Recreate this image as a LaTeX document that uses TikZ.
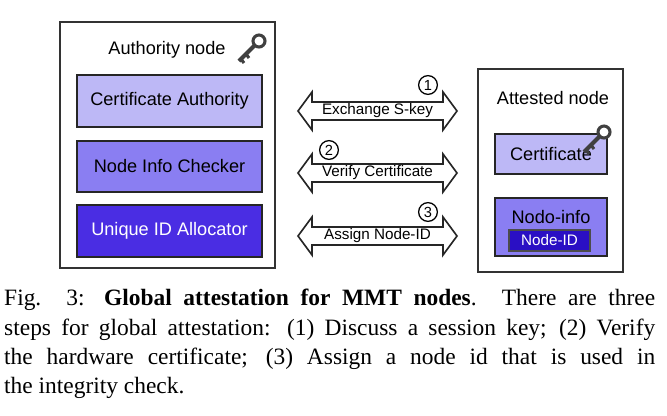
\documentclass[tikz,border=0pt]{standalone}
\usepackage{fontspec}
\setmainfont{Liberation Serif}
\setsansfont{Liberation Sans}
\begin{document}
\begin{tikzpicture}[x=0.03cm,y=-0.03cm,
  frame/.style={draw=black!80,line width=1.6pt,fill=white},
  blk/.style={draw=black!85,line width=1.6pt,font=\sffamily\fontsize{15.5}{18}\selectfont},
  lbl/.style={font=\sffamily\fontsize{15.5}{18}\selectfont},
  small/.style={font=\sffamily\fontsize{13}{15}\selectfont},
  num/.style={circle,draw,line width=1.1pt,inner sep=0.5pt,minimum size=16pt,font=\sffamily\fontsize{12.5}{14}\selectfont,fill=white},
  darr/.style={draw=black!85,line width=1.4pt,fill=white,line join=miter}]
\useasboundingbox (0,0) rectangle (667,415);
\definecolor{c1}{HTML}{BDB8F6}
\definecolor{c2}{HTML}{8A7EF2}
\definecolor{c3}{HTML}{4A2DE3}
\definecolor{c4}{HTML}{2A0FC4}
\newcommand{\keyicon}[3]{%
  \begin{scope}[shift={(#1,#2)},rotate=#3]
    \draw[black!75,line width=2.6pt,fill=white] (0,0) circle (6);
    \draw[black!75,line width=3.4pt] (-4.5,4.5) -- (-20,20);
    \draw[black!75,line width=2.6pt] (-13,13) -- (-10,17) (-18,18) -- (-15,22);
  \end{scope}}
% authority
\draw[frame] (60,22) rectangle (275,268);
\node[lbl] (an) at (167,50) {Authority node};
\keyicon{259}{41}{0}
\node[blk,fill=c1,minimum width=185*0.03cm,minimum height=52*0.03cm] (ca) at (169.5,101) {Certificate Authority};
\node[blk,fill=c2,minimum width=185*0.03cm,minimum height=51*0.03cm] (nic) at (169.5,166.5) {Node Info Checker};
\node[blk,fill=c3,text=white,minimum width=185*0.03cm,minimum height=52*0.03cm] (uid) at (169.5,231) {Unique ID Allocator};
% attested
\draw[frame] (478,69) rectangle (623,272);
\node[lbl] (atn) at (553,98) {Attested node};
\node[blk,fill=c1,minimum width=112*0.03cm,minimum height=40*0.03cm] (cert) at (551,154) {Certificate};
\keyicon{604}{132}{0}
\node[blk,fill=c2,minimum width=112*0.03cm,minimum height=58*0.03cm] (ni) at (551,227) {};
\node[lbl,anchor=north] (nit) at (551,206) {Nodo-info};
\node[small,fill=c4,text=white,draw=black!70,line width=1pt,minimum width=81*0.03cm,minimum height=21*0.03cm] (nid) at (549.5,240.5) {Node-ID};
% double arrows
\foreach \cy/\t/\n in {111/Exchange S-key/a1,173/Verify Certificate/a2,236/Assign Node-ID/a3}{
  \draw[darr] (298,\cy) -- (312,\cy-19) -- (312,\cy-9) -- (443,\cy-9) -- (443,\cy-19) -- (457,\cy) -- (443,\cy+19) -- (443,\cy+9) -- (312,\cy+9) -- (312,\cy+19) -- cycle;
  \node[small] (\n) at (377.5,\cy) {\t};
}
\node[num] (n1) at (428,85) {1};
\node[num] (n2) at (329,150) {2};
\node[num] (n3) at (428,212) {3};
% caption
\node[anchor=north west,text width=651*0.03cm,align=justify,inner sep=0pt,font=\fontsize{20}{25}\selectfont] (cap) at (4,289)
 {\hyphenpenalty=10000 Fig. 3: \textbf{Global attestation for MMT nodes}. There are three\linebreak steps for global attestation: (1) Discuss a session key; (2) Verify\linebreak the hardware certificate; (3) Assign a node id that is used in\linebreak the integrity check.};
\end{tikzpicture}
\end{document}
